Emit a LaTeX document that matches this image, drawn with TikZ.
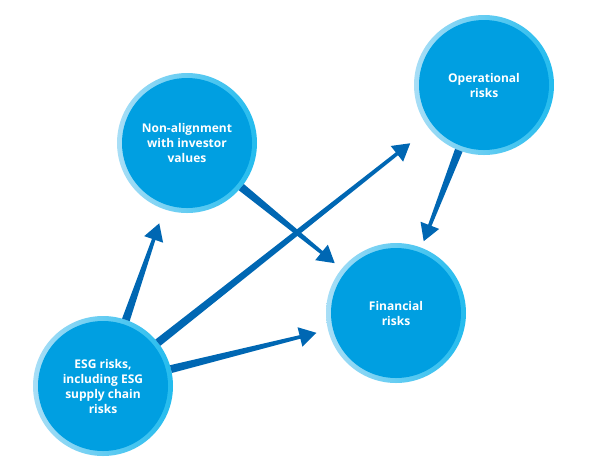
\documentclass[tikz,border=0pt]{standalone}
\usepackage{fontspec}
\setmainfont{Open Sans}
\usetikzlibrary{calc}
\definecolor{riskblue}{HTML}{009FE1}
\definecolor{arrowblue}{HTML}{0067B3}
\definecolor{ringlight}{HTML}{A8DEF6}
\definecolor{ringcyan}{HTML}{22BBEE}
\newcommand{\riskarrow}[3]{%
  \coordinate (s) at ($(#1.center)!70pt!(#2.center)$);
  \coordinate (t) at ($(#2.center)!#3!(#1.center)$);
  \coordinate (b) at ($(t)!17pt!(s)$);
  \fill[arrowblue] ($(s)!4pt!90:(t)$) -- ($(b)!1.8pt!-90:(s)$) -- ($(b)!10pt!-90:(s)$)
    -- (t) -- ($(b)!10pt!90:(s)$) -- ($(b)!1.8pt!90:(s)$) -- ($(s)!4pt!-90:(t)$) -- cycle;
}

\begin{document}
\begin{tikzpicture}[x=1pt,y=-1pt,
  risk/.style={circle,minimum size=140pt,inner sep=0pt,left color=ringlight,right color=ringcyan,
    path picture={\fill[riskblue] (path picture bounding box.center) circle (65pt);},
    text=white,font=\fontsize{12}{15}\selectfont\bfseries,align=center}]
  \useasboundingbox (0,0) rectangle (600,475);
  \node[risk] (nonalign) at (187,143) {Non-alignment\\with investor\\values};
  \node[risk] (oper) at (484,85) {Operational\\risks};
  \node[risk] (fin) at (396,313) {Financial\\risks};
  \node[risk] (esg) at (103,386) {ESG risks,\\including ESG\\supply chain\\risks};
  \riskarrow{esg}{nonalign}{85pt}
  \riskarrow{esg}{oper}{94pt}
  \riskarrow{esg}{fin}{82pt}
  \riskarrow{nonalign}{fin}{79pt}
  \riskarrow{oper}{fin}{77pt}
\end{tikzpicture}
\end{document}
